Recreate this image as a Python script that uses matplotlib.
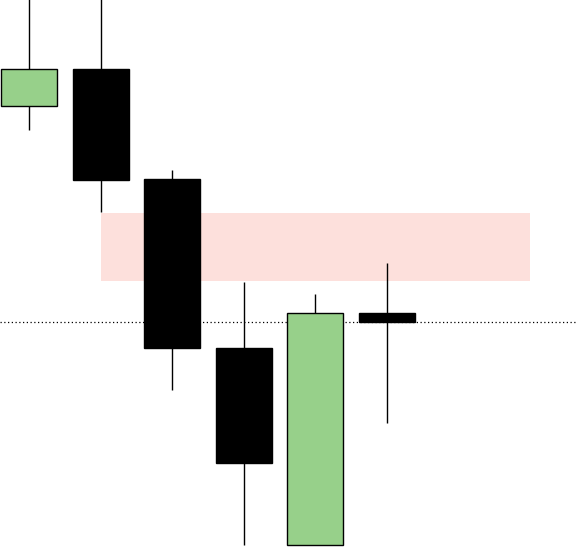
import numpy as np
import matplotlib
matplotlib.use("Agg")
import matplotlib.pyplot as plt
from matplotlib.patches import Rectangle

# candle data (arbitrary price units)
opens  = [452, 489, 379, 210, 13, 245]
highs  = [560, 560, 388, 276, 264, 295]
lows   = [428, 346, 168, 13, 13, 135]
closes = [489, 378, 210, 95, 245, 236]

zone_lo, zone_hi = 277, 345
zone_start, zone_end = 1, 7
level = 236

up_col = '#97d08a'
down_col = '#000000'
zone_col = '#fde0dc'

fig = plt.figure(figsize=(5.77, 5.58), dpi=100)
ax = fig.add_axes([0, 0, 1, 1])

ax.add_patch(Rectangle((zone_start, zone_lo), zone_end - zone_start, zone_hi - zone_lo,
                       facecolor=zone_col, edgecolor='none', zorder=0))
ax.axhline(level, color='black', linestyle=(0, (1, 2)), linewidth=0.9, zorder=1)

w = 0.78
for i, (o, h, l, c) in enumerate(zip(opens, highs, lows, closes)):
    ax.vlines(i, l, h, color='black', linewidth=1, zorder=2)
    col = up_col if c >= o else down_col
    ax.add_patch(Rectangle((i - w / 2, min(o, c)), w, abs(c - o),
                           facecolor=col, edgecolor='black', linewidth=1, zorder=3))

ax.set_xlim(-0.405, 7.654)
ax.set_ylim(0, 558)
ax.axis('off')

plt.savefig('out.png', dpi=100)
